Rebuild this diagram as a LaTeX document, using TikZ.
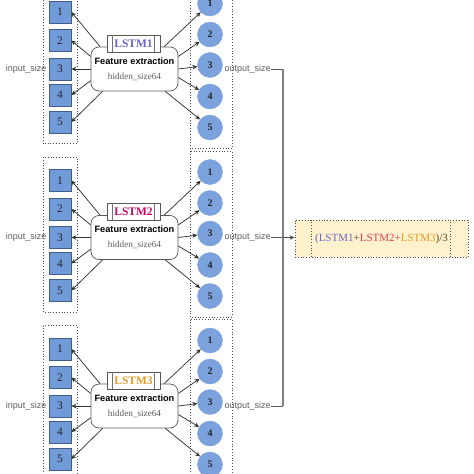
\documentclass[tikz,border=0pt]{standalone}
\usepackage{fontspec}
\setmainfont{Liberation Serif}
\setsansfont{Liberation Sans}
\usetikzlibrary{arrows.meta,calc}
\definecolor{boxblue}{HTML}{7BA2DC}
\definecolor{sqblue}{HTML}{719BD8}
\definecolor{boxedge}{HTML}{3F5E8C}
\definecolor{lstmA}{HTML}{6666CC}
\definecolor{lstmB}{HTML}{CC0066}
\definecolor{lstmC}{HTML}{E69A28}
\definecolor{resred}{HTML}{E0405A}
\definecolor{resdark}{HTML}{5A4A2A}
\definecolor{resfill}{HTML}{FFF2CC}
\definecolor{txtgray}{HTML}{5E5E5E}
\definecolor{linegray}{HTML}{808080}
\tikzset{
  cont/.style={draw=black!70, dotted, line width=0.8pt},
  sqbox/.style={draw=boxedge, fill=sqblue, line width=0.7pt, minimum size=22pt, inner sep=0pt, font=\fontsize{11.5}{13}\selectfont, text=black!85},
  circbox/.style={circle, draw=boxblue, fill=boxblue, minimum size=25pt, inner sep=0pt, font=\bfseries\fontsize{10}{12}\selectfont, text=black!85},
  febox/.style={draw=black!65, fill=white, line width=0.7pt, rounded corners=8pt, minimum width=87pt, minimum height=44pt, inner sep=0pt, align=center, font=\fontsize{9.2}{15}\selectfont},
  lstmbox/.style={draw=black!65, fill=white, line width=0.7pt, minimum width=53pt, minimum height=17pt, inner sep=0pt, font=\bfseries\fontsize{11.5}{13}\selectfont},
  lbl/.style={inner sep=0pt, text=txtgray, font=\sffamily\fontsize{9}{11}\selectfont},
  arr/.style={draw=black!80, line width=0.75pt, -{Stealth[length=5pt,width=4.5pt]}},
  gl/.style={draw=linegray, line width=1.6pt},
  resbox/.style={draw=black!70, dotted, line width=0.8pt, fill=resfill, minimum width=173pt, minimum height=37pt, inner sep=0pt, font=\fontsize{11}{13}\selectfont}
}
\begin{document}
\begin{tikzpicture}[x=1pt,y=-1pt]
\useasboundingbox (0,0) rectangle (474,474);
\clip (0,0) rectangle (474,474);
\fill[white] (0,0) rectangle (474,474);
\foreach \b/\dy/\lc in {1/0/lstmA, 2/168.5/lstmB, 3/337/lstmC} {
  \begin{scope}[shift={(0,\dy)}]
    \draw[cont] (43,-11.5) rectangle (77,143.5);
    \draw[cont] (190,-17.5) rectangle (232,148.5);
    \foreach \i/\yy in {1/12,2/40.5,3/69,4/95,5/122}
      \node[sqbox] (s\b-\i) at (60,\yy) {\i};
    \foreach \i/\yy in {1/3.5,2/34.5,3/65,4/96.5,5/127.5}
      \node[circbox] (c\b-\i) at (210,\yy) {\i};
    \node[febox] (fe\b) at (134.5,69) {{\sffamily\bfseries Feature extraction}\\{\color{txtgray}hidden\_size64}};
    \draw[arr] (fe\b.147.5) -- (s\b-1.east);
    \draw[arr] (fe\b.164) -- (s\b-2.east);
    \draw[arr] (fe\b.180) -- (s\b-3.east);
    \draw[arr] (fe\b.195) -- (s\b-4.east);
    \draw[arr] (fe\b.215) -- (s\b-5.east);
    \draw[arr] (fe\b.37) -- (c\b-1);
    \draw[arr] (fe\b.16) -- (c\b-2);
    \draw[arr] (fe\b.0) -- (c\b-3);
    \draw[arr] (fe\b.-11) -- (c\b-4);
    \draw[arr] (fe\b.-36) -- (c\b-5);
    \node[lstmbox, text=\lc] (l\b) at (133.5,43.5) {LSTM\b};
    \draw[black!55, line width=0.7pt] ($(l\b.north west)+(6,0)$) -- ($(l\b.south west)+(6,0)$);
    \draw[black!55, line width=0.7pt] ($(l\b.north east)+(-6,0)$) -- ($(l\b.south east)+(-6,0)$);
    \node[lbl, anchor=east] (in\b) at (46.5,69) {input\_size};
    \node[lbl, anchor=west] (out\b) at (224.5,69) {output\_size};
    \coordinate (j\b) at (283,69);
    \draw[gl, line width=1pt, draw=black!65] (out\b.east) -- (j\b);
  \end{scope}
}
\draw[gl] (j1) -- (j3);
\node[resbox] (res) at (381.5,238.5) {\textcolor{lstmA}{(LSTM1}\textcolor{resdark}{+}\textcolor{resred}{LSTM2+}\textcolor{lstmC}{LSTM3}\textcolor{resdark}{)/3}};
\draw[cont] ($(res.north west)+(17,0)$) -- ($(res.south west)+(17,0)$);
\draw[cont] ($(res.north east)+(-18,0)$) -- ($(res.south east)+(-18,0)$);
\draw[gl, -{Stealth[length=5pt,width=4.5pt]}, color=black!70] (j2) -- (j2 -| res.west);
\end{tikzpicture}
\end{document}
